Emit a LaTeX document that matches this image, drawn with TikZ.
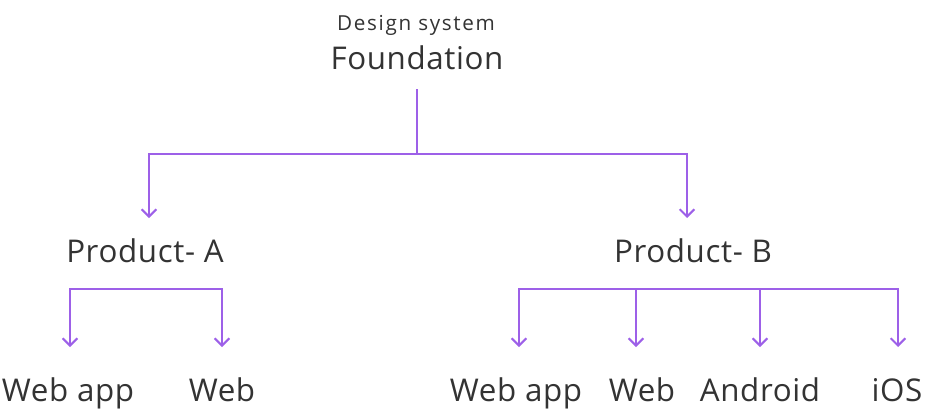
\documentclass[tikz,border=0pt]{standalone}
\usepackage{fontspec}
\setmainfont{Open Sans}
\usetikzlibrary{arrows.meta}
\definecolor{linkpurple}{RGB}{157,96,232}
\definecolor{labelgrey}{RGB}{51,51,51}
\begin{document}
\begin{tikzpicture}[
    x=0.75pt, y=-0.75pt,
    lbl/.style={anchor=base, inner sep=0pt, text=labelgrey, font=\fontsize{23.5}{26}\selectfont\addfontfeatures{LetterSpace=2}},
    sublbl/.style={anchor=base, inner sep=0pt, text=labelgrey, font=\fontsize{15.5}{18}\selectfont\addfontfeatures{LetterSpace=8}},
    link/.style={draw=linkpurple, line width=1.5pt},
    arr/.style={link, -{Straight Barb[length=5.5pt, width=11pt, line width=1.5pt]}}
]
    \useasboundingbox (0, 0) rectangle (926, 411);

    % --- top ---
    \node[sublbl] (ds) at (416, 30) {Design system};
    \node[lbl] (fnd) at (417, 69) {Foundation};
    \coordinate (fnd-out) at (417, 89);
    \coordinate (hub) at (417, 154);

    % --- products ---
    \node[lbl] (pa) at (145, 262) {Product- A};
    \node[lbl] (pb) at (693, 262) {Product- B};
    \coordinate (pa-in) at (149, 218);
    \coordinate (pb-in) at (687, 218);

    \draw[link] (fnd-out) -- (hub);
    \draw[arr] (hub) -| (pa-in);
    \draw[arr] (hub) -| (pb-in);

    % --- product A ---
    \node[lbl] (a1) at (68, 401) {Web app};
    \node[lbl] (a2) at (222, 401) {Web};
    \coordinate (a1-in) at (70, 347);
    \coordinate (a2-in) at (222, 347);
    \coordinate (a-bar) at (146, 289);

    \draw[arr] (a-bar) -| (a1-in);
    \draw[arr] (a-bar) -| (a2-in);

    % --- product B ---
    \node[lbl] (b1) at (516, 401) {Web app};
    \node[lbl] (b2) at (642, 401) {Web};
    \node[lbl] (b3) at (760, 401) {Android};
    \node[lbl] (b4) at (897, 401) {iOS};
    \coordinate (b1-in) at (519, 347);
    \coordinate (b2-in) at (636, 347);
    \coordinate (b3-in) at (760, 347);
    \coordinate (b4-in) at (898, 347);
    \coordinate (b-bar) at (636, 289);

    \draw[arr] (b-bar) -| (b1-in);
    \draw[arr] (b-bar) -- (b2-in);
    \draw[arr] (b-bar) -| (b3-in);
    \draw[arr] (b-bar) -| (b4-in);
\end{tikzpicture}
\end{document}
